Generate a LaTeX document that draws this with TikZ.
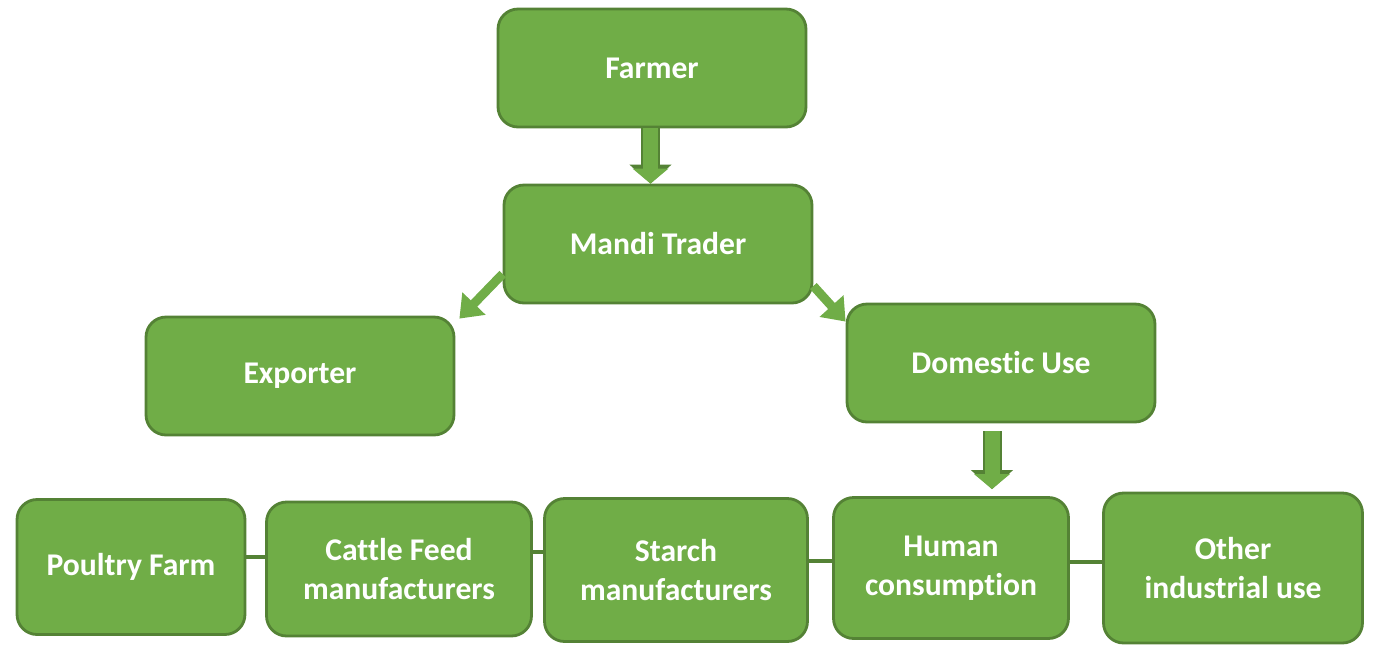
\documentclass[tikz,border=0pt]{standalone}
\usepackage{fontspec}
\setmainfont{Carlito}[Ligatures={NoCommon,NoRequired,NoContextual}]
\usetikzlibrary{positioning,arrows.meta}
\definecolor{leaf}{HTML}{70AD47}
\definecolor{leafdark}{HTML}{548235}

\begin{document}
\begin{tikzpicture}[
    x=0.02cm, y=-0.02cm,
    box/.style={draw=leafdark, fill=leaf, line width=1.6pt, rounded corners=0.4cm,
        text=white, font=\fontsize{18}{22}\selectfont\bfseries, align=center, inner sep=2pt},
    bigbox/.style={box, minimum width=6.16cm, minimum height=2.36cm},
    blockarrow/.style={draw=leaf, line width=0.3cm, -{Triangle[width=0.7cm,length=0.3cm]},
        preaction={draw=leafdark, line width=0.38cm, -{Triangle[width=0.82cm,length=0.38cm]}}},
    thinarrow/.style={draw=leaf, line width=0.18cm, -{Triangle[width=0.62cm,length=0.42cm]}},
    link/.style={draw=leafdark, line width=0.08cm}
]
\useasboundingbox (0,0) rectangle (1384,647);

  % top of the chain
  \node[bigbox] (farmer) at (652,68) {Farmer};
  \node[bigbox] (mandi) at (658,244) {Mandi Trader};
  \node[bigbox] (exporter) at (300,376) {Exporter};
  \node[bigbox] (domestic) at (1001,363) {Domestic Use};

  % users of the crop
  \node[box, minimum width=4.56cm, minimum height=2.7cm] (poultry) at (131,567) {Poultry Farm};
  \node[box, minimum width=5.3cm, minimum height=2.68cm] (cattle) at (399,569) {Cattle Feed\\manufacturers};
  \node[box, minimum width=5.26cm, minimum height=2.86cm] (starch) at (676,570) {Starch\\manufacturers};
  \node[box, minimum width=4.7cm, minimum height=2.82cm] (human) at (951,568) {Human\\consumption};
  \node[box, minimum width=5.18cm, minimum height=3cm] (other) at (1233,568) {Other\\industrial use};

\draw[blockarrow] ([xshift=-0.03cm]farmer.south) -- ([xshift=-0.03cm]farmer.south |- mandi.north);
\draw[thinarrow] ([yshift=-0.6cm]mandi.west) -- ([shift={(0.08cm,-0.06cm)}]exporter.north east);
\draw[thinarrow] ([yshift=-0.84cm]mandi.east) -- ([yshift=-0.38cm]domestic.north west);
\draw[blockarrow] ([shift={(-0.18cm,-0.16cm)}]domestic.south) -- ([xshift=-0.18cm,yshift=0.14cm]domestic.south |- human.north);

\draw[link] ([yshift=0.2cm]poultry.east) -- ([yshift=0.2cm]poultry.east -| cattle.west);
\draw[link] ([yshift=0.34cm]cattle.east) -- ([yshift=0.34cm]cattle.east -| starch.west);
\draw[link] ([yshift=0.18cm]starch.east) -- ([yshift=0.18cm]starch.east -| human.west);
\draw[link] ([yshift=0.12cm]human.east) -- ([yshift=0.12cm]human.east -| other.west);
\end{tikzpicture}
\end{document}
